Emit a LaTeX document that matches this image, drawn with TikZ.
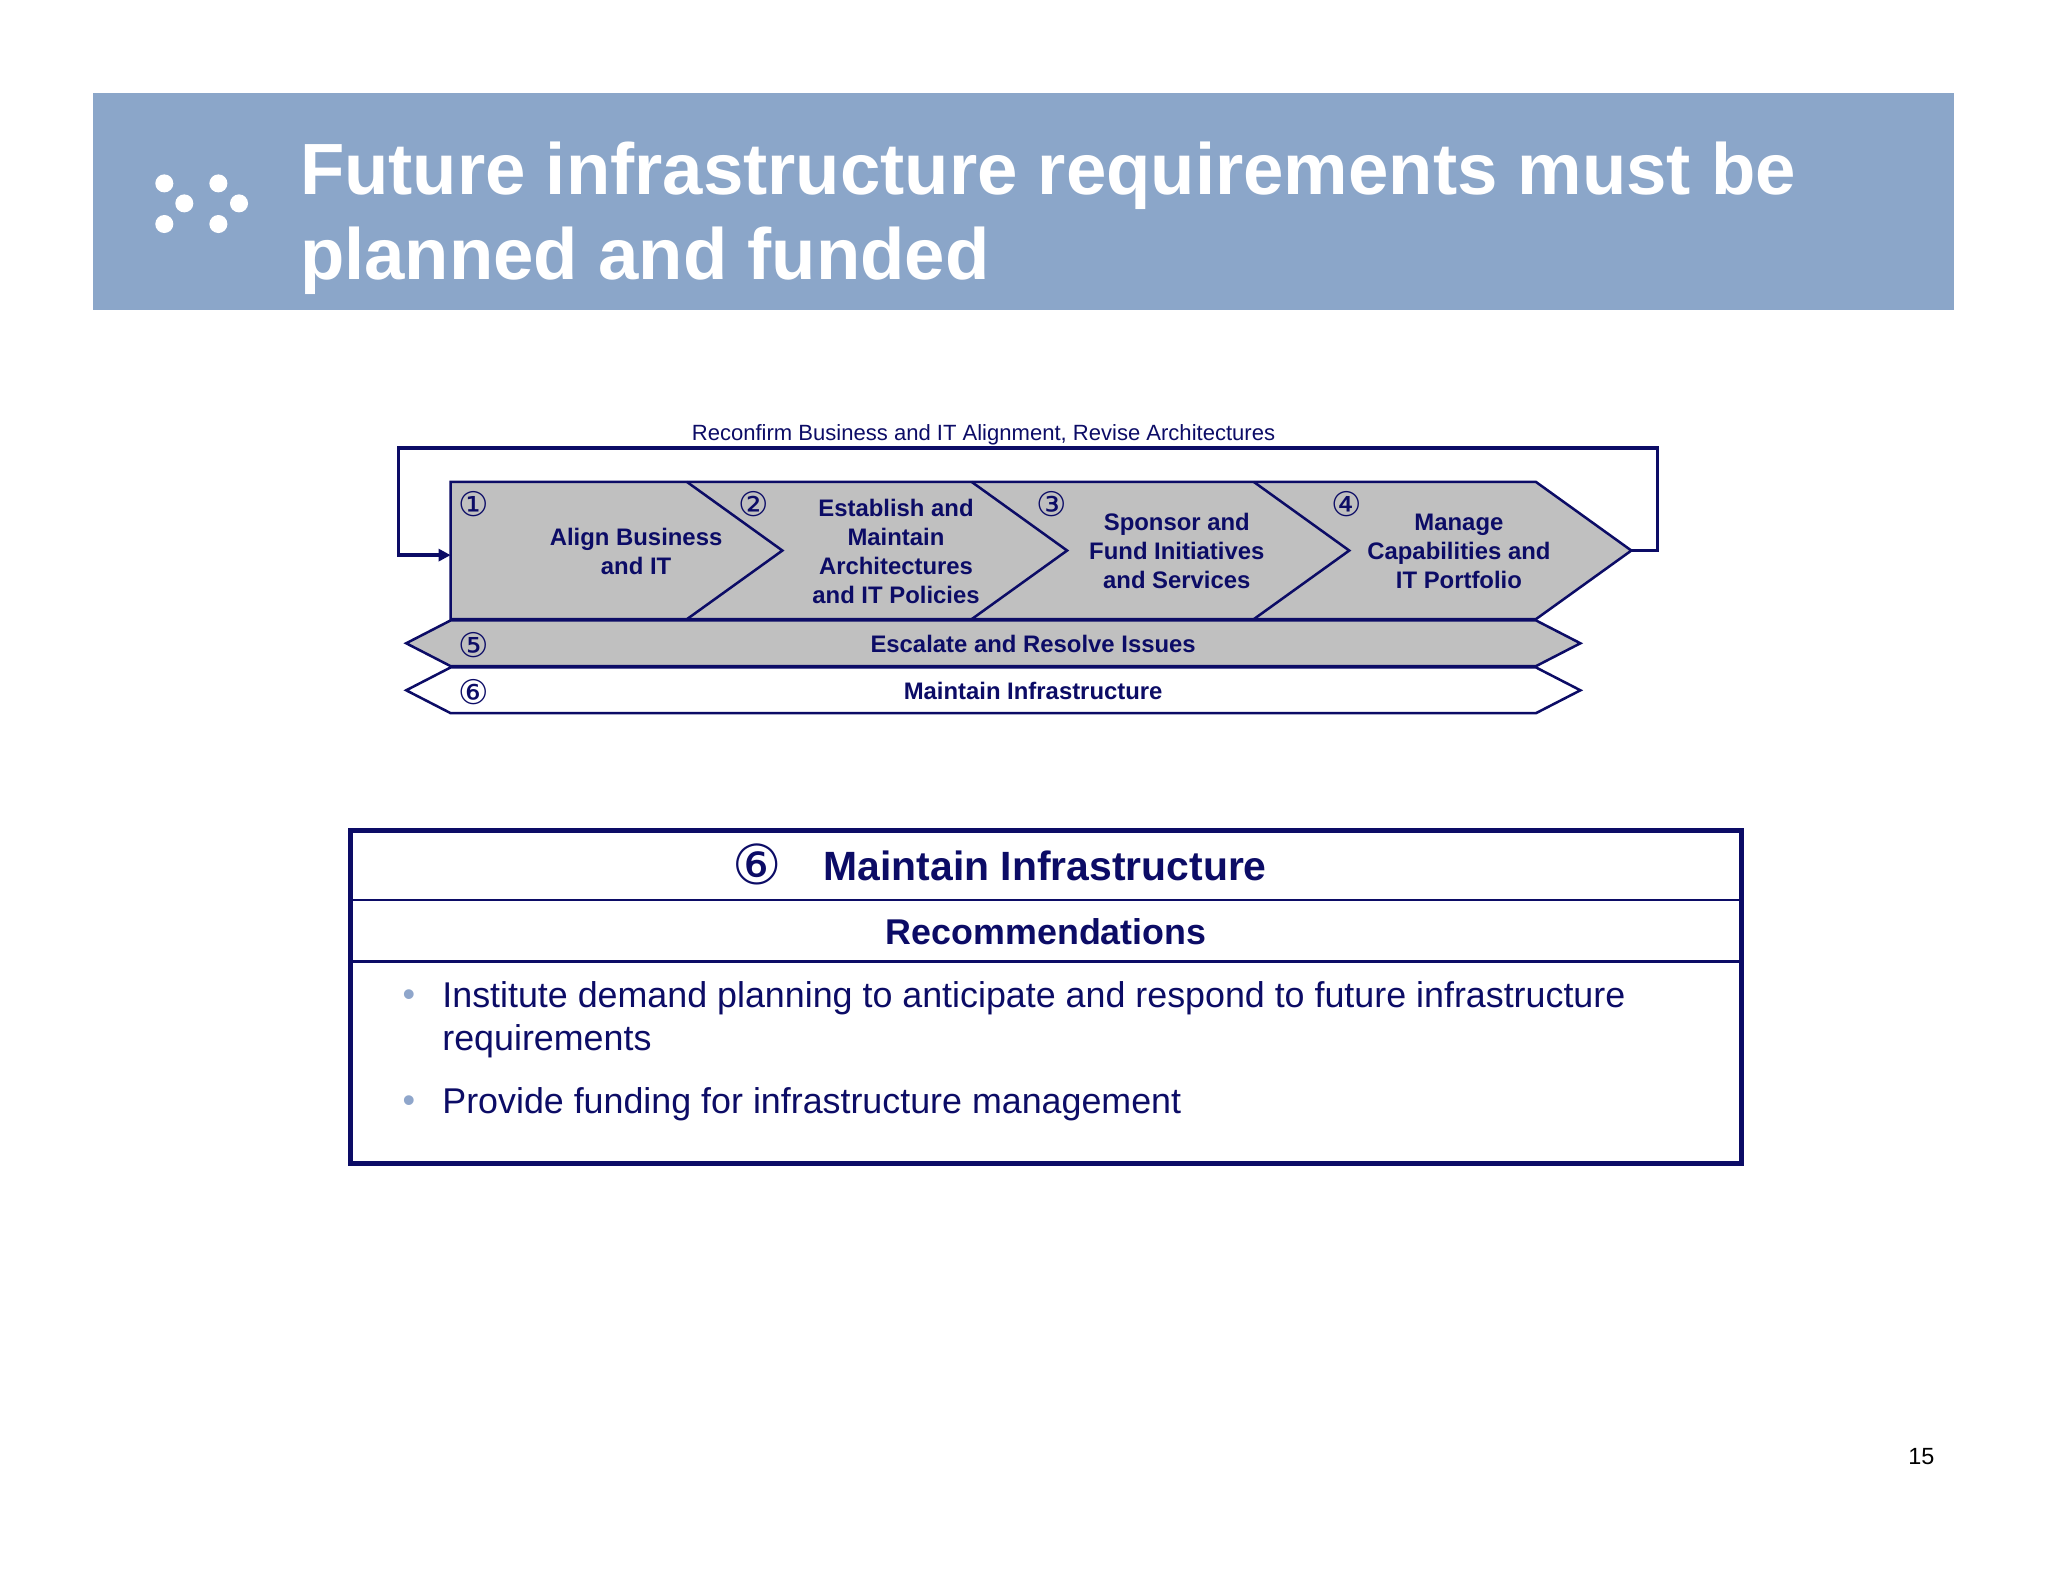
\documentclass[tikz,border=0pt]{standalone}
\usepackage{fontspec}
\setmainfont{Liberation Sans}
\newfontfamily\circfont{DejaVu Sans}
\usetikzlibrary{arrows.meta,calc}
\definecolor{navy}{RGB}{12,12,102}
\definecolor{barblue}{RGB}{139,166,201}
\definecolor{bulletblue}{RGB}{143,166,203}
\definecolor{stepgray}{RGB}{192,192,192}
\newcommand{\fsz}[2]{\fontsize{#1}{#2}\selectfont}
\tikzset{
  steptext/.style={font=\bfseries\fsz{5.2pt}{6.3pt},text=navy,align=center,inner sep=0pt},
  stepnum/.style={font=\circfont\fsz{7.4pt}{7.4pt},text=navy,inner sep=0pt},
  outline/.style={draw=navy,line width=0.55pt},
  itemtext/.style={font=\fsz{7.8pt}{9.4pt},text=navy,align=left,inner sep=0pt,anchor=north west},
  itemdot/.style={font=\fsz{7.8pt}{9.4pt},text=bulletblue,inner sep=0pt},
}
\begin{document}
\begin{tikzpicture}[x=0.01cm,y=-0.01cm,>=Stealth]
  \useasboundingbox (0,0) rectangle (1568,1211);
  \fill[barblue] (71,71) rectangle (1496,237);
  \foreach \dx/\dy in {125.8/140.4,167.2/140.4,141.1/155.7,183/155.7,125.8/171.5,167.2/171.5}
    \fill[white] (\dx,\dy) circle[radius=0.069cm];
  \node[anchor=base west,inner sep=0pt,text=white,font=\bfseries\fsz{15.8pt}{18.5pt}] (title1) at (229,149) {Future infrastructure requirements must be};
  \node[anchor=base west,inner sep=0pt,text=white,font=\bfseries\fsz{15.8pt}{18.5pt}] (title2) at (229,214) {planned and funded};

  \filldraw[stepgray,outline] (345,369) -- (1176,369) -- (1249,421.5) -- (1176,474) -- (345,474) -- cycle;
  \foreach \sx in {526,744,960}
    \draw[outline] (\sx,369) -- (\sx+73,421.5) -- (\sx,474);
  \filldraw[stepgray,outline] (345,475) -- (1176,475) -- (1210,492.5) -- (1176,510) -- (345,510) -- (311,492.5) -- cycle;
  \filldraw[white,outline] (345,511) -- (1176,511) -- (1210,528.5) -- (1176,546) -- (345,546) -- (311,528.5) -- cycle;

  \coordinate (tip4) at (1249,421.5);
  \coordinate (entry) at (345,425);
  \draw[navy,line width=0.8pt,-{Triangle[length=2.6pt,width=2.6pt]}] (tip4) -- ++(20,0) |- (305,343) |- (entry);
  \node[anchor=base,inner sep=0pt,text=navy,font=\fsz{4.8pt}{5.4pt}] (loop) at (753,337) {Reconfirm Business and IT Alignment, Revise Architectures};

  \node[steptext] (align) at (487,422) {Align Business\\and IT};
  \node[steptext] (arch) at (686,422) {Establish and\\Maintain\\Architectures\\and IT Policies};
  \node[steptext] (fund) at (901,422) {Sponsor and\\Fund Initiatives\\and Services};
  \node[steptext] (manage) at (1117,422) {Manage\\Capabilities and\\IT Portfolio};
  \node[steptext] (escalate) at (791,493) {Escalate and Resolve Issues};
  \node[steptext] (infra) at (791,529) {Maintain Infrastructure};
  \node[stepnum] (n1) at (363,386) {①};
  \node[stepnum] (n2) at (577,386) {②};
  \node[stepnum] (n3) at (805,386) {③};
  \node[stepnum] (n4) at (1031,386) {④};
  \node[stepnum] (n5) at (363,494) {⑤};
  \node[stepnum] (n6) at (363,530) {⑥};

  \draw[navy,line width=1.1pt] (268,636) rectangle (1333,891);
  \draw[navy,line width=0.6pt] (268,689) -- (1333,689);
  \draw[navy,line width=0.6pt] (268,736) -- (1333,736);
  \node[inner sep=0pt,text=navy,font=\circfont\fsz{12pt}{12pt}] (boxnum) at (580,662) {⑥};
  \node[anchor=west,inner sep=0pt,text=navy,font=\bfseries\fsz{8.9pt}{10pt}] (boxtitle) at (630,663) {Maintain Infrastructure};
  \node[inner sep=0pt,text=navy,font=\bfseries\fsz{7.8pt}{9pt}] (recs) at (801,713) {Recommendations};
  \node[itemdot] (dot1) at (313,764) {\textbullet};
  \node[itemtext] (item1) at (338,751) {Institute demand planning to anticipate and respond to future infrastructure\\requirements};
  \node[itemdot] (dot2) at (313,845) {\textbullet};
  \node[itemtext] (item2) at (338,832) {Provide funding for infrastructure management};

  \node[inner sep=0pt,font=\fsz{5.1pt}{6pt}] (page) at (1471,1115) {15};
\end{tikzpicture}
\end{document}
